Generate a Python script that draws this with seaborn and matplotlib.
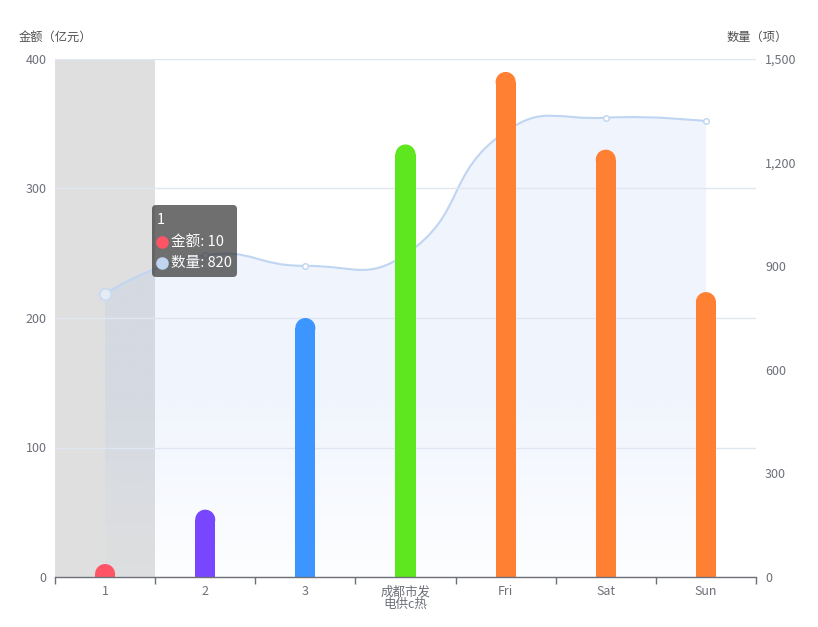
import numpy as np
import pandas as pd
import matplotlib
matplotlib.use("Agg")
import matplotlib.pyplot as plt
import seaborn as sns
from matplotlib.patches import FancyBboxPatch, PathPatch, Rectangle, Ellipse
from matplotlib.path import Path
from matplotlib.lines import Line2D
from matplotlib.ticker import FuncFormatter

# ---------------- data ----------------
categories = ['1', '2', '3', '成都市发电供c热', 'Fri', 'Sat', 'Sun']
amounts = [10, 52, 200, 334, 390, 330, 220]          # 金额（亿元）
counts = [820, 932, 901, 934, 1290, 1330, 1320]      # 数量（项）
bar_colors = ['#FF5465', '#7846FF', '#3D95FF', '#5EE61E', '#FF8033', '#FF8033', '#FF8033']
left_ticks = [0, 100, 200, 300, 400]
right_ticks = [0, 300, 600, 900, 1200, 1500]
left_name = '金额（亿元）'
right_name = '数量（项）'

line_color = '#BFD5F1'
text_color = '#6E7079'

sns.set_theme(style='white')
plt.rcParams['font.family'] = ['Noto Sans CJK SC', 'DejaVu Sans']

W, H = 818, 627
fig = plt.figure(figsize=(W / 100, H / 100), dpi=100)
fig.patch.set_facecolor('white')
L, R, T, B = 55, 756, 59, 577
ax = fig.add_axes([L / W, 1 - B / H, (R - L) / W, (B - T) / H])
ax2 = ax.twinx()
ax.set_zorder(ax2.get_zorder() + 1)
ax.patch.set_visible(False)

df = pd.DataFrame({'cat': categories, 'amount': amounts})
sns.barplot(data=df, x='cat', y='amount', hue='cat', palette=bar_colors,
            legend=False, width=0.2, saturation=1, ax=ax)

n = len(categories)
ax.set_xlim(-0.5, n - 0.5)
ax.set_ylim(left_ticks[0], left_ticks[-1])
ax2.set_ylim(right_ticks[0], right_ticks[-1])

# ---- rounded top bars (semicircle caps) ----
p0 = ax.transData.transform((0, 0))
p1 = ax.transData.transform((1, 1))
px_x = p1[0] - p0[0]
px_y = p1[1] - p0[1]
for p in list(ax.patches):
    x, w, h = p.get_x(), p.get_width(), p.get_height()
    fc = p.get_facecolor()
    p.remove()
    r_x = w / 2
    r_y = r_x * px_x / px_y
    body = max(h - r_y, 0)
    ax.add_patch(Rectangle((x, 0), w, body, fc=fc, ec='none', zorder=3))
    ax.add_patch(Ellipse((x + r_x, h - r_y), w, 2 * r_y, fc=fc, ec='none', zorder=3))

# ---- axis pointer shadow on first category ----
ax2.axvspan(-0.5, 0.5, color=(150 / 255, 150 / 255, 150 / 255), alpha=0.3, lw=0, zorder=0)

# ---- smooth line (echarts-like bezier) ----
xs = np.arange(n)
pts = ax2.transData.transform(np.column_stack([xs, counts]))
s = 0.5
cp_in = pts.copy()
cp_out = pts.copy()
for i in range(1, n - 1):
    v = (pts[i + 1] - pts[i - 1]) * s
    d0 = np.hypot(*(pts[i] - pts[i - 1]))
    d1 = np.hypot(*(pts[i + 1] - pts[i]))
    cp_in[i] = pts[i] - v * d0 / (d0 + d1)
    cp_out[i] = pts[i] + v * d1 / (d0 + d1)
verts = [pts[0]]
codes = [Path.MOVETO]
for i in range(n - 1):
    verts += [cp_out[i], cp_in[i + 1], pts[i + 1]]
    codes += [Path.CURVE4] * 3
inv = ax2.transData.inverted()
verts_d = inv.transform(np.array(verts))
line_path = Path(verts_d, codes)

base = right_ticks[0]
area_verts = [(xs[0], base)] + list(verts_d) + [(xs[-1], base), (xs[0], base)]
area_codes = [Path.MOVETO, Path.LINETO] + codes[1:] + [Path.LINETO, Path.CLOSEPOLY]
area_path = Path(area_verts, area_codes)
area_patch = PathPatch(area_path, fc='none', ec='none', transform=ax2.transData)
ax2.add_patch(area_patch)

top_val = max(counts) + 10
grad = np.zeros((256, 1, 4))
grad[..., 0] = 150 / 255
grad[..., 1] = 185 / 255
grad[..., 2] = 245 / 255
t = np.linspace(0, 1, 256)          # 0 bottom -> 1 top
alpha = np.where(t > 0.42, 0.15, 0.02 + (0.15 - 0.02) * t / 0.42)
grad[:, 0, 3] = alpha
im = ax2.imshow(grad, extent=[xs[0], xs[-1], base, top_val], origin='lower',
                aspect='auto', zorder=1, interpolation='bilinear')
im.set_clip_path(area_patch)

ax2.add_patch(PathPatch(line_path, fill=False, ec=line_color, lw=1.5, zorder=2,
                        capstyle='round', joinstyle='round'))

sns.scatterplot(x=xs[1:], y=counts[1:], ax=ax2, s=16, marker='o', color='white',
                edgecolor=line_color, linewidth=1, zorder=4, legend=False)
ax2.plot([xs[0]], [counts[0]], marker='o', ms=8.5, mfc='#E6ECF4', mec='#CBDAEE',
         mew=1.5, zorder=5, ls='none')

ax.set_xlim(-0.5, n - 0.5)
ax2.set_ylim(right_ticks[0], right_ticks[-1])

# ---- axes styling ----
for sp in ['left', 'top', 'right']:
    ax.spines[sp].set_visible(False)
ax.spines['bottom'].set_color(text_color)
ax.spines['bottom'].set_linewidth(1)
ax.spines['bottom'].set_zorder(5)
for sp in ax2.spines.values():
    sp.set_visible(False)

labels = [c if len(c) <= 4 else c[:4] + '\n' + c[4:] for c in categories]
ax.set_xticks(xs)
ax.set_xticklabels(labels, linespacing=0.95)
ax.set_xticks(np.arange(-0.5, n, 1), minor=True)
ax.tick_params(axis='x', which='major', length=0, pad=6, labelsize=9, labelcolor=text_color)
ax.tick_params(axis='x', which='minor', bottom=True, length=5, width=1, color=text_color, direction='out')
ax.set_xlabel('')
ax.set_ylabel('')

ax.set_yticks(left_ticks)
ax.tick_params(axis='y', length=0, pad=6, labelsize=9, labelcolor=text_color)
ax.yaxis.grid(True, color=(224 / 255, 230 / 255, 241 / 255, 0.35), lw=1)
ax.xaxis.grid(False)
ax.set_axisbelow(True)

ax2.set_yticks(right_ticks)
ax2.yaxis.set_major_formatter(FuncFormatter(lambda v, _: f'{int(v):,}'))
ax2.tick_params(axis='y', length=0, pad=6.5, labelsize=9, labelcolor=text_color)
ax2.grid(False)
ax2.set_ylabel('')

fig.text(55.5 / W, 1 - 37 / H, left_name, ha='center', va='center', fontsize=8.8, color='#505050')
fig.text(757 / W, 1 - 37 / H, right_name, ha='center', va='center', fontsize=8.8, color='#505050')

# ---- tooltip ----
def fx(px):
    return px / W


def fy(py):
    return 1 - py / H


tip = FancyBboxPatch((fx(152), fy(277)), (237 - 152) / W, (277 - 205) / H,
                     boxstyle=f'round,pad=0,rounding_size={4 / W}', mutation_aspect=W / H,
                     transform=fig.transFigure, fc=(50 / 255, 50 / 255, 50 / 255, 0.7),
                     ec='none', zorder=10)
fig.add_artist(tip)
fig.text(fx(157), fy(220), categories[0], color='white', fontsize=10.5, va='center', zorder=11)
fig.add_artist(Line2D([fx(162)], [fy(242)], marker='o', ms=8, color=bar_colors[0],
                      transform=fig.transFigure, zorder=11))
fig.add_artist(Line2D([fx(162)], [fy(263)], marker='o', ms=8, color=line_color,
                      transform=fig.transFigure, zorder=11))
fig.text(fx(171), fy(242), f'金额: {amounts[0]}', color='white', fontsize=10.5, va='center',
         zorder=11, fontweight='medium')
fig.text(fx(171), fy(263), f'数量: {counts[0]}', color='white', fontsize=10.5, va='center',
         zorder=11, fontweight='medium')

fig.savefig('out.png', dpi=100, facecolor='white')
